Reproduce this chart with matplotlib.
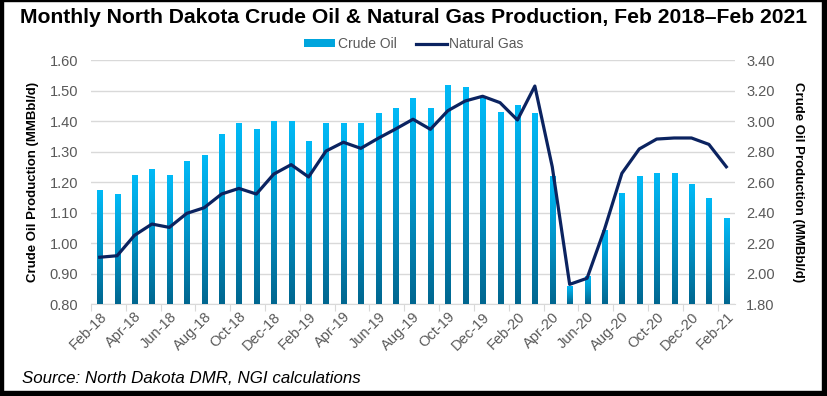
import numpy as np
import matplotlib.pyplot as plt
from matplotlib.colors import LinearSegmentedColormap
from matplotlib.patches import Rectangle, Patch
from matplotlib.lines import Line2D

plt.rcParams['font.family'] = ['Liberation Sans', 'DejaVu Sans']

# monthly data, Feb 2018 - Feb 2021
months = ['Feb-18', 'Mar-18', 'Apr-18', 'May-18', 'Jun-18', 'Jul-18', 'Aug-18',
          'Sep-18', 'Oct-18', 'Nov-18', 'Dec-18', 'Jan-19', 'Feb-19', 'Mar-19',
          'Apr-19', 'May-19', 'Jun-19', 'Jul-19', 'Aug-19', 'Sep-19', 'Oct-19',
          'Nov-19', 'Dec-19', 'Jan-20', 'Feb-20', 'Mar-20', 'Apr-20', 'May-20',
          'Jun-20', 'Jul-20', 'Aug-20', 'Sep-20', 'Oct-20', 'Nov-20', 'Dec-20',
          'Jan-21', 'Feb-21']

crude_oil = [1.174, 1.161, 1.223, 1.243, 1.223, 1.269, 1.289, 1.358, 1.391,
             1.374, 1.400, 1.400, 1.335, 1.391, 1.391, 1.394, 1.424, 1.443,
             1.476, 1.443, 1.516, 1.512, 1.475, 1.430, 1.450, 1.427, 1.217,
             0.859, 0.890, 1.040, 1.164, 1.220, 1.230, 1.227, 1.191, 1.145,
             1.082]

natural_gas = [2.107, 2.117, 2.251, 2.325, 2.303, 2.395, 2.432, 2.522, 2.559,
               2.522, 2.653, 2.715, 2.634, 2.804, 2.862, 2.822, 2.888, 2.949,
               3.013, 2.947, 3.069, 3.133, 3.164, 3.122, 3.008, 3.231, 2.701,
               1.929, 1.969, 2.290, 2.658, 2.818, 2.883, 2.890, 2.890, 2.848,
               2.701]

oil_ticks = np.arange(0.8, 1.61, 0.1)
gas_ticks = np.arange(1.8, 3.41, 0.2)

grey = '#595959'
navy = '#0b2360'
bar_cmap = LinearSegmentedColormap.from_list('bar', ['#00668f', '#0094c8', '#00baf7'])

fig = plt.figure(figsize=(8.28, 3.96), dpi=100)
ax = fig.add_axes([0.1099, 0.2323, 0.7778, 0.6154])

x = np.arange(len(months))
bars = ax.bar(x, np.array(crude_oil) - 0.8, bottom=0.8, width=0.29, color='none', zorder=2)

# gradient fill for every bar
grad = np.linspace(0, 1, 256).reshape(-1, 1)
for b in bars:
    x0 = b.get_x()
    y0 = b.get_y()
    ax.imshow(grad, cmap=bar_cmap, origin='lower', aspect='auto', zorder=2,
              extent=[x0, x0 + b.get_width(), y0, y0 + b.get_height()])

ax.set_xlim(-0.5, len(months) - 0.5)
ax.set_ylim(0.8, 1.6)
ax.set_yticks(oil_ticks)
ax.set_yticklabels(['%.2f' % v for v in oil_ticks])
ax.yaxis.grid(True, color='#d9d9d9', lw=1)
ax.set_axisbelow(True)
for s in ['left', 'top', 'right']:
    ax.spines[s].set_visible(False)
ax.spines['bottom'].set_color('#d9d9d9')
ax.spines['bottom'].set_zorder(1)
ax.tick_params(axis='y', length=0, pad=9, labelsize=10.5, labelcolor=grey)

# tick marks between month pairs, labels on every other month
ax.set_xticks(np.arange(-0.5, len(months) - 1, 2))
ax.set_xticklabels([])
ax.tick_params(axis='x', which='major', length=5, color='#d9d9d9')
ax.set_xticks(x[::2], minor=True)
ax.set_xticklabels(months[::2], minor=True, rotation=45, ha='right',
                   rotation_mode='anchor', color=grey, fontsize=10.5)
ax.tick_params(axis='x', which='minor', length=0, pad=4)

ax.set_ylabel('Crude Oil Production (MMBbl/d)', fontsize=9.5, fontweight='bold', labelpad=8)

ax2 = ax.twinx()
ax2.plot(x, natural_gas, color=navy, lw=2.3, zorder=3)
ax2.set_ylim(1.8, 3.4)
ax2.set_yticks(gas_ticks)
ax2.set_yticklabels(['%.2f' % v for v in gas_ticks])
for s in ['left', 'top', 'right', 'bottom']:
    ax2.spines[s].set_visible(False)
ax2.tick_params(axis='y', length=0, pad=8, labelsize=10.5, labelcolor=grey)
ax2.set_ylabel('Crude Oil Production (MMBbl/d)', fontsize=9.5, fontweight='bold',
               rotation=270, labelpad=21)

fig.text(0.5, 0.955, 'Monthly North Dakota Crude Oil & Natural Gas Production, Feb 2018\u2013Feb 2021',
         ha='center', va='center', fontsize=15.2, fontweight='bold')

handles = [Patch(facecolor='#00a5dd', edgecolor='none'),
           Line2D([0], [0], color=navy, lw=2.3)]
fig.legend(handles, ['Crude Oil', 'Natural Gas'], loc='center', bbox_to_anchor=(0.5, 0.889),
           ncol=2, frameon=False, fontsize=10, labelcolor=grey, handlelength=2.2,
           handleheight=0.5, handletextpad=0.2, columnspacing=1.4)

fig.text(0.027, 0.043, 'Source: North Dakota DMR, NGI calculations', fontsize=12.2,
         style='italic', va='center')

# black frame round the picture, heavier on right and bottom
W, H = 828.0, 396.0
fig.patches.append(Rectangle((0, 0), 3 / W, 1, transform=fig.transFigure, color='black'))
fig.patches.append(Rectangle((0, 1 - 1 / H), 1, 1 / H, transform=fig.transFigure, color='black'))
fig.patches.append(Rectangle((1 - 6 / W, 0), 6 / W, 1, transform=fig.transFigure, color='black'))
fig.patches.append(Rectangle((0, 0), 1, 5 / H, transform=fig.transFigure, color='black'))

fig.savefig('out.png', dpi=100)
